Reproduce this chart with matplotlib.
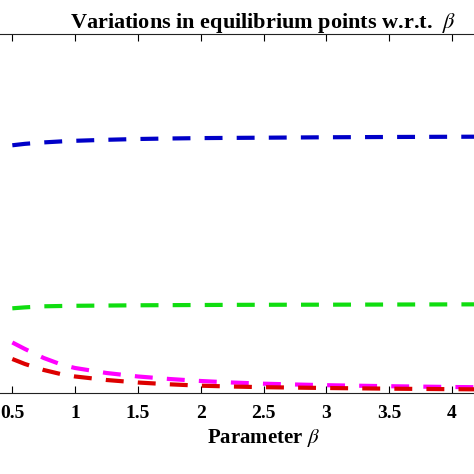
import numpy as np
from matplotlib import pyplot as plt

plt.rcParams['font.family'] = ['Liberation Serif', 'DejaVu Serif']
plt.rcParams['mathtext.fontset'] = 'stix'

beta = [0.5, 0.6, 0.75, 0.9, 1.0, 1.25, 1.5, 1.75, 2.0, 2.25, 2.5, 2.75, 3.0, 3.5, 4.0, 4.5, 5.0]

eq_blue = [0.690, 0.694, 0.698, 0.701, 0.7025, 0.7053, 0.7075, 0.7089, 0.7100, 0.7106,
           0.7111, 0.7117, 0.7123, 0.7131, 0.7137, 0.7142, 0.7145]
eq_green = [0.2359, 0.2385, 0.2415, 0.2424, 0.2429, 0.2436, 0.2443, 0.2447, 0.2451, 0.2455,
            0.2457, 0.2459, 0.2460, 0.2464, 0.2468, 0.2471, 0.2474]
eq_magenta = [0.1407, 0.1226, 0.0975, 0.0780, 0.0696, 0.0557, 0.0460, 0.0390, 0.0334, 0.0292,
              0.0259, 0.0237, 0.0217, 0.0189, 0.0167, 0.0153, 0.0139]
eq_red = [0.0947, 0.0808, 0.0641, 0.0515, 0.0460, 0.0362, 0.0292, 0.0242, 0.0203, 0.0180,
          0.0162, 0.0150, 0.0139, 0.0120, 0.0106, 0.0095, 0.0084]

xticks = [0.5, 1, 1.5, 2, 2.5, 3, 3.5, 4]
xticklabels = ['0.5', '1', '1.5', '2', '2.5', '3', '3.5', '4']

fig = plt.figure(figsize=(4.74, 4.74), dpi=100)
ax = fig.add_axes([-0.1065, 0.1709, 1.325, 0.7574])

dash = (4.3, 3.4)
lw = 3.0
ax.plot(beta, eq_blue, color='#0000c8', lw=lw, ls=(0, dash))
ax.plot(beta, eq_green, color='#10dd10', lw=lw, ls=(0, dash))
ax.plot(beta, eq_magenta, color='#ff00ff', lw=lw, ls=(0, dash))
ax.plot(beta, eq_red, color='#dd0000', lw=lw, ls=(0, dash))

ax.set_xlim(0, 5)
ax.set_ylim(0, 1)
ax.set_xticks(xticks)
ax.set_xticklabels(xticklabels, fontsize=14, fontweight='bold')
ax.set_yticks([])
ax.tick_params(axis='x', direction='in', length=5, width=0.8, top=True, pad=9)
for s in ax.spines.values():
    s.set_linewidth(0.8)
    s.set_color('#222222')

ax.set_xlabel(r'Parameter $\beta$', fontsize=15, fontweight='bold', labelpad=3)
ax.set_title(r'Variations in equilibrium points w.r.t.  $\beta$', fontsize=16,
             fontweight='bold', pad=4)

fig.savefig('out.png', dpi=100)
